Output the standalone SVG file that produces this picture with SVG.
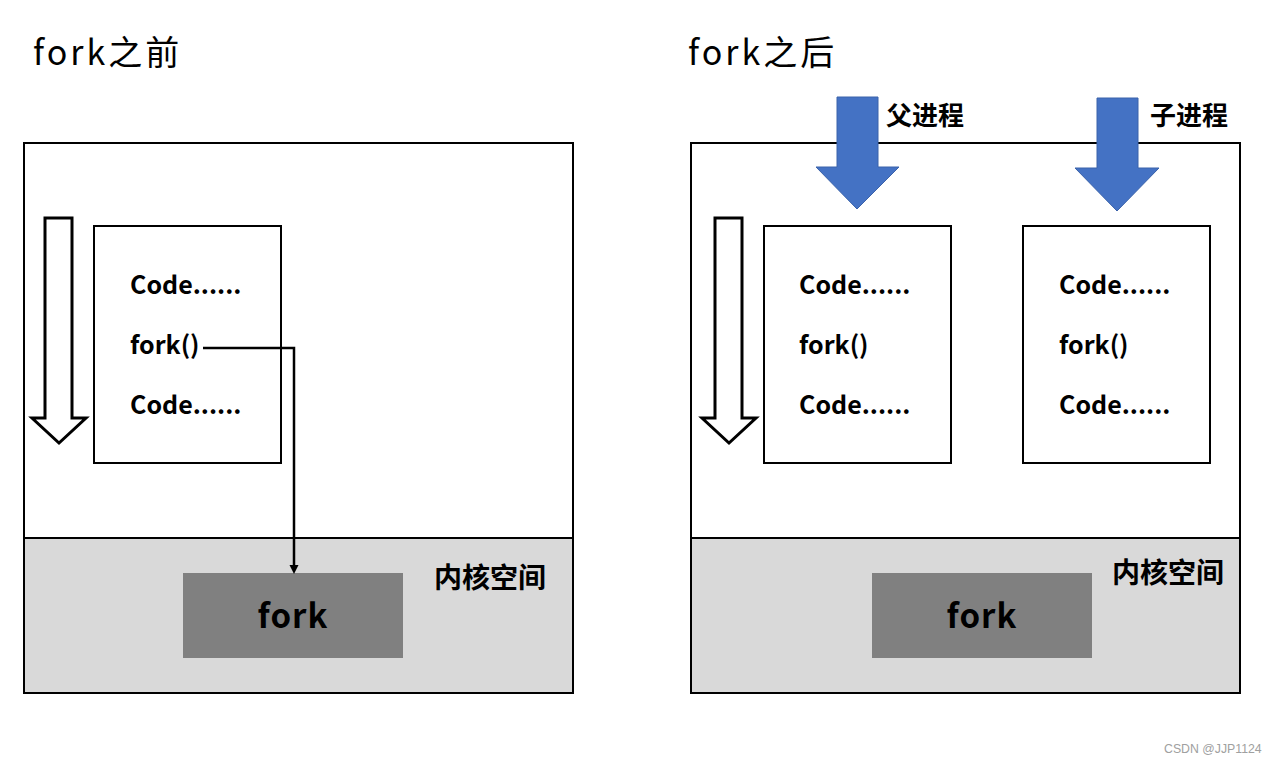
<svg xmlns="http://www.w3.org/2000/svg" width="1276" height="764" viewBox="0 0 1276 764">
<defs>
<style>
.box{fill:#fff;stroke:#000;stroke-width:2;}
.gray{fill:#d9d9d9;stroke:#000;stroke-width:2;}
.code{font-family:"Noto Sans CJK SC","Noto Sans",sans-serif;font-weight:bold;font-size:25px;fill:#000;dominant-baseline:central;}
.title{font-family:"Noto Sans CJK SC","Noto Sans",sans-serif;font-size:34px;fill:#000;dominant-baseline:central;letter-spacing:3px;}
.lbl{font-family:"Noto Sans CJK SC",sans-serif;font-weight:bold;font-size:26px;fill:#000;dominant-baseline:central;}
.klbl{font-family:"Noto Sans CJK SC",sans-serif;font-weight:bold;font-size:28px;fill:#000;dominant-baseline:central;}
.forkt{font-family:"Noto Sans CJK SC","Noto Sans",sans-serif;font-weight:bold;font-size:33px;fill:#000;text-anchor:middle;dominant-baseline:central;letter-spacing:1px;}
.hollow{fill:#fff;stroke:#000;stroke-width:3;stroke-linejoin:miter;}
.blue{fill:#4472c4;stroke:#3a62aa;stroke-width:1;}
</style>
</defs>
<rect width="1276" height="764" fill="#fff"/>

<text class="title" x="33" y="50">fork之前</text>
<text class="title" x="688" y="50">fork之后</text>

<g id="left-space">
<rect class="box" x="24" y="143" width="549" height="550"/>
<rect class="gray" x="24" y="538" width="549" height="155"/>
</g>
<g id="left-flow-arrow">
<path class="hollow" d="M45,218 L72,218 L72,418 L86,418 L59,443 L32,418 L45,418 Z"/>
</g>
<g id="left-code">
<rect class="box" x="94" y="226" width="187" height="237"/>
<text class="code" x="130" y="283">Code......</text>
<text class="code" x="130" y="343">fork()</text>
<text class="code" x="130" y="403">Code......</text>
</g>
<g id="left-kernel">
<text class="klbl" x="434" y="576">内核空间</text>
<rect x="183" y="573" width="220" height="85" fill="#808080"/>
<text class="forkt" x="293" y="614">fork</text>
</g>

<g id="right-space">
<rect class="box" x="691" y="143" width="549" height="550"/>
<rect class="gray" x="691" y="538" width="549" height="155"/>
</g>
<g id="right-flow-arrow">
<path class="hollow" d="M715,218 L742,218 L742,418 L756,418 L729,443 L702,418 L715,418 Z"/>
</g>
<g id="parent-code">
<rect class="box" x="764" y="226" width="187" height="237"/>
<text class="code" x="799" y="283">Code......</text>
<text class="code" x="799" y="343">fork()</text>
<text class="code" x="799" y="403">Code......</text>
</g>
<g id="child-code">
<rect class="box" x="1023" y="226" width="187" height="237"/>
<text class="code" x="1059" y="283">Code......</text>
<text class="code" x="1059" y="343">fork()</text>
<text class="code" x="1059" y="403">Code......</text>
</g>
<g id="right-kernel">
<text class="klbl" x="1112" y="571">内核空间</text>
<rect x="872" y="573" width="220" height="85" fill="#808080"/>
<text class="forkt" x="982" y="614">fork</text>
</g>
<g id="parent-arrow">
<path class="blue" d="M837,97 L878,97 L878,167 L899,167 L857,209 L816,167 L837,167 Z"/>
<text class="lbl" x="886" y="113">父进程</text>
</g>
<g id="child-arrow">
<path class="blue" d="M1097,98 L1138,98 L1138,168 L1159,168 L1117,211 L1075,168 L1097,168 Z"/>
<text class="lbl" x="1150" y="113">子进程</text>
</g>

<g id="connectors">
<polyline points="203,348 294,348 294,566" fill="none" stroke="#000" stroke-width="2.5"/>
<path d="M289.5,565 L298.5,565 L294,574 Z" fill="#000"/>
</g>

<text x="1164" y="753" font-size="12.3" fill="#a0a0a0" font-family="Liberation Sans, sans-serif">CSDN @JJP1124</text>
</svg>
